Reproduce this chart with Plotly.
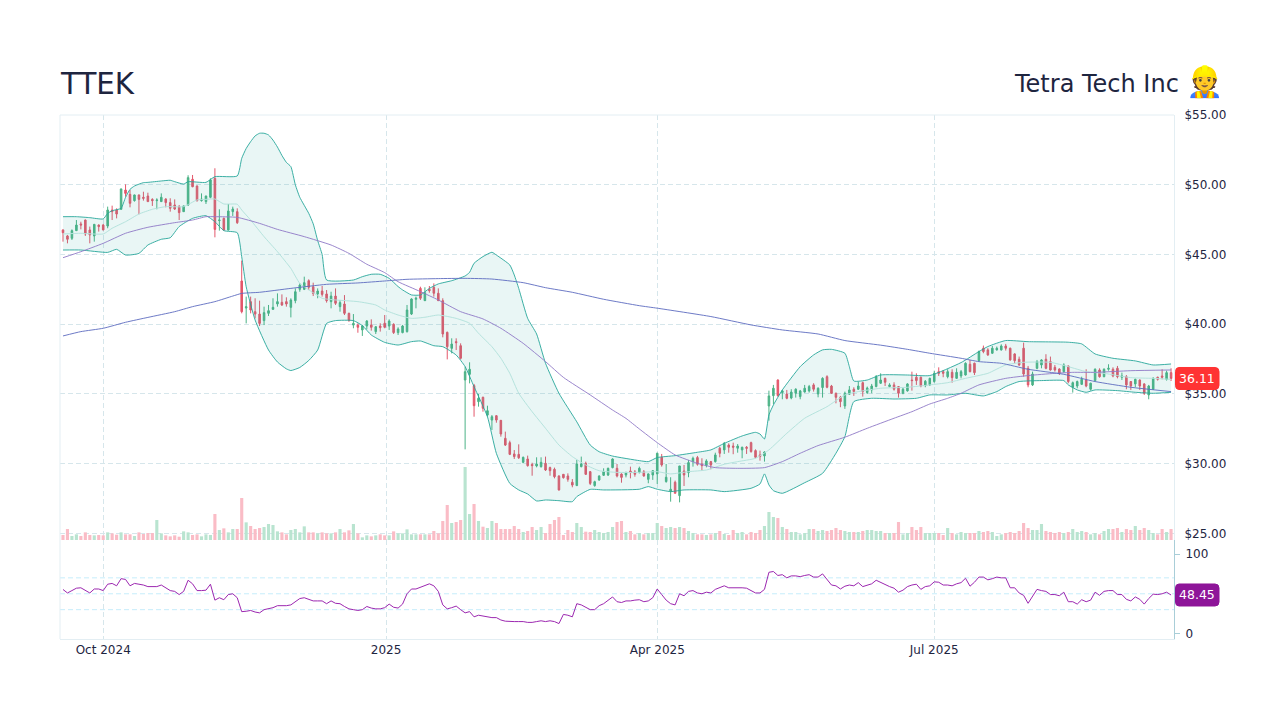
import plotly.graph_objects as go

# trading day numbers on the x axis, 0 is 18 Sep 2024
tick_days = [9, 72.3, 133, 195]
tick_labels = ["Oct 2024", "2025", "Apr 2025", "Jul 2025"]

price_ticks = [25, 30, 35, 40, 45, 50, 55]
price_labels = ["$25.00", "$30.00", "$35.00", "$40.00", "$45.00", "$50.00", "$55.00"]
rsi_ticks = [0, 100]
rsi_levels = [30, 50, 70]

open_px = [
    46.76,46.33,46.16,46.71,47.19,47.47,46.76,46.33,47.11,47.11,
    47.04,48.19,48.19,48.24,49.62,49.31,48.86,49.27,49.10,49.19,
    48.95,48.86,48.79,48.98,48.72,48.55,48.43,48.07,48.55,50.39,
    49.91,48.86,48.79,49.10,50.46,47.43,47.59,46.76,48.07,48.07,
    43.10,41.16,41.62,40.90,40.73,40.26,40.78,41.07,41.45,41.57,
    41.62,41.21,41.69,42.50,42.50,43.12,42.69,42.17,42.38,42.17,
    41.62,42.02,41.26,41.45,40.78,39.94,39.94,39.59,39.87,39.95,
    39.47,39.87,40.07,39.87,39.99,39.40,39.40,39.47,40.73,41.79,
    42.57,41.69,42.50,42.65,42.22,41.69,39.42,38.27,38.75,38.46,
    36.00,36.41,35.60,34.45,34.76,33.49,33.13,33.44,33.11,31.82,
    31.51,30.70,30.67,30.10,30.34,29.95,29.84,29.79,30.03,29.72,
    29.60,29.12,29.24,29.12,28.67,28.43,29.79,30.03,29.43,28.43,
    28.83,29.17,29.19,29.72,29.67,29.26,29.19,29.48,29.41,29.36,
    29.43,28.88,29.19,29.27,30.46,28.72,28.00,28.67,27.71,29.48,
    29.36,30.15,30.44,29.98,29.89,30.15,30.15,31.11,30.99,31.34,
    31.27,31.11,30.99,31.18,31.51,30.94,30.63,30.56,34.14,34.88,
    36.00,35.10,35.00,34.71,35.05,34.81,35.14,35.22,35.65,35.00,
    35.46,36.24,35.57,35.05,34.76,34.14,34.98,35.34,35.34,35.81,
    35.10,35.29,35.53,35.77,36.12,35.53,35.65,35.53,35.05,35.22,
    36.00,36.20,36.20,35.60,35.65,35.89,36.60,36.60,36.24,36.55,
    36.12,36.29,36.36,37.13,37.20,37.39,38.28,38.16,37.92,38.16,
    38.16,38.44,38.28,37.87,37.49,38.28,36.84,35.65,36.84,37.08,
    37.49,37.32,36.91,36.79,36.60,37.01,35.48,35.57,35.69,36.00,
    35.34,35.96,36.72,36.24,36.77,36.77,36.84,36.20,36.24,35.89,
    35.72,36.00,35.72,34.93,35.34,36.20,36.29,36.05,36.53,
]
high_px = [
    46.80,46.40,46.80,47.47,47.35,47.50,47.00,47.19,47.16,47.19,
    48.43,48.50,48.31,49.72,50.03,49.62,49.29,49.29,49.50,49.43,
    49.03,49.03,49.38,49.03,49.03,48.95,48.55,48.50,50.68,50.70,
    49.95,49.38,49.22,50.46,51.18,48.24,47.65,48.62,48.43,48.31,
    44.56,41.98,41.98,41.86,41.69,41.26,41.38,41.86,42.21,42.14,
    41.93,41.86,42.57,42.93,43.41,43.22,42.98,42.57,42.74,42.45,
    42.33,42.57,41.74,42.09,40.83,40.73,40.06,39.95,40.30,40.35,
    39.87,40.07,40.66,40.35,40.07,39.78,39.95,41.38,41.86,41.98,
    42.69,42.65,42.74,42.93,42.57,41.86,39.47,38.99,38.99,38.63,
    36.96,37.27,35.72,35.00,34.81,34.16,33.49,33.49,33.13,32.30,
    31.65,30.98,31.39,30.51,30.58,30.07,30.46,30.46,30.51,29.79,
    29.72,29.17,29.26,29.31,28.90,30.27,30.51,30.15,29.48,28.78,
    29.17,29.67,29.72,30.39,29.98,29.31,29.43,29.79,29.55,29.79,
    29.55,29.31,29.55,30.79,30.70,29.98,29.03,28.79,29.84,29.91,
    30.27,30.51,30.56,30.39,30.32,30.20,30.79,31.22,31.56,31.46,
    31.51,31.41,31.22,31.27,31.58,31.03,30.94,30.89,35.24,35.65,
    36.05,35.29,35.29,35.34,35.41,35.29,35.65,35.65,35.77,35.48,
    36.20,36.34,35.65,35.10,34.86,35.17,35.57,35.48,35.89,35.89,
    35.53,35.72,36.36,36.48,36.17,35.77,35.84,35.57,35.43,35.77,
    36.60,36.48,36.24,36.00,36.17,36.67,36.91,36.72,36.77,36.77,
    36.84,36.72,37.27,37.44,37.25,38.11,38.47,38.28,38.44,38.40,
    38.56,38.59,38.32,37.92,37.68,38.68,37.01,36.60,37.44,37.49,
    37.85,37.68,37.08,36.84,37.20,37.03,35.89,35.96,36.24,36.77,
    35.81,36.84,36.84,36.84,37.13,36.91,37.01,36.53,36.36,35.93,
    36.10,36.05,35.77,35.65,36.20,36.24,36.77,36.67,36.84,
]
low_px = [
    45.92,45.80,46.04,46.68,46.80,46.33,45.80,45.92,46.64,46.74,
    46.88,47.47,47.59,48.19,49.15,48.38,48.79,47.88,48.86,48.79,
    48.48,48.24,48.77,48.38,48.07,48.19,47.47,48.05,48.48,49.82,
    48.79,48.79,48.62,49.03,46.23,46.71,46.71,46.71,47.76,47.19,
    40.78,40.06,40.78,40.42,39.87,39.94,40.59,41.02,41.26,41.31,
    41.26,40.49,41.50,42.33,42.45,42.45,42.02,41.86,41.98,41.55,
    41.14,41.38,40.90,40.66,40.18,39.71,39.39,39.16,39.63,39.54,
    39.30,39.47,39.71,39.59,39.30,39.23,39.35,39.40,40.66,41.14,
    41.74,41.67,42.26,41.98,41.67,39.06,37.48,37.91,38.15,37.48,
    31.03,35.76,33.37,34.09,33.73,33.37,32.42,32.94,31.94,31.27,
    30.62,30.34,30.34,30.03,29.79,29.14,29.74,29.72,29.48,29.14,
    28.95,28.07,28.93,28.71,28.31,28.40,29.74,29.19,28.47,28.35,
    28.78,29.12,29.12,29.67,29.02,28.64,29.02,28.95,29.07,29.31,
    29.07,28.60,28.84,28.55,29.79,28.64,27.28,27.88,27.23,28.40,
    29.03,29.79,29.86,29.50,29.74,29.60,30.08,30.46,30.70,30.79,
    30.68,30.79,30.39,30.70,30.79,30.39,30.22,30.15,33.09,34.28,
    34.81,34.62,34.62,34.62,34.74,34.62,35.10,35.10,35.17,34.76,
    34.74,35.41,35.00,34.33,34.05,33.93,34.93,34.86,35.29,34.81,
    35.00,35.05,35.48,35.72,35.57,35.48,35.24,34.74,34.98,35.17,
    35.24,35.65,35.48,35.48,35.57,35.81,36.29,36.20,36.12,35.81,
    36.08,36.12,36.32,36.55,36.36,37.32,37.92,37.73,37.87,38.11,
    38.11,38.11,37.39,37.20,37.01,36.24,35.48,35.57,36.77,36.84,
    36.77,36.67,36.60,36.36,36.53,35.77,35.10,35.41,35.65,35.48,
    35.24,35.89,36.17,36.20,36.67,36.20,36.12,36.00,35.34,35.29,
    35.48,35.29,34.93,34.62,35.29,35.96,36.05,35.96,35.93,
]
close_px = [
    46.56,46.09,46.71,47.11,47.11,46.47,46.40,47.16,47.00,46.76,
    48.19,48.07,47.90,49.70,49.38,48.67,49.27,48.95,49.03,48.79,
    48.86,48.91,49.10,48.72,48.31,48.26,48.00,48.48,50.51,49.86,
    48.86,48.98,49.19,50.34,46.80,47.47,46.76,48.12,48.26,47.28,
    40.90,41.26,41.02,40.73,40.06,40.83,40.97,41.21,41.62,41.38,
    41.45,41.74,42.33,42.81,42.98,42.65,42.21,42.38,42.14,41.69,
    42.02,41.50,41.55,40.78,40.26,40.06,39.78,39.87,40.23,39.78,
    39.82,39.75,39.78,40.23,39.40,39.66,39.87,41.02,41.81,41.86,
    41.86,42.26,42.41,42.22,41.69,39.30,38.39,38.58,38.68,37.56,
    36.60,36.77,34.16,34.69,33.97,33.80,33.37,33.13,32.13,31.34,
    30.67,30.51,30.43,30.46,29.86,29.86,29.98,30.10,29.55,29.50,
    29.07,28.12,29.00,28.88,28.47,29.98,29.98,29.24,28.59,28.71,
    29.12,29.43,29.67,30.34,29.12,29.02,29.36,29.36,29.24,29.67,
    29.12,29.27,29.50,30.75,29.91,29.03,28.17,27.88,29.84,29.19,
    30.08,30.39,29.96,29.86,30.20,29.91,30.63,30.75,31.46,31.18,
    31.18,31.27,31.18,31.11,30.87,30.46,30.51,30.84,34.86,35.41,
    34.88,35.22,34.69,35.14,35.34,35.22,35.41,35.53,35.34,35.41,
    36.12,35.48,35.05,34.76,34.45,35.05,35.29,35.17,35.57,35.17,
    35.43,35.57,36.24,36.00,35.84,35.65,35.34,35.05,35.34,35.72,
    35.96,35.96,35.57,35.91,36.12,36.48,36.48,36.48,36.60,36.17,
    36.55,36.60,37.20,36.60,36.53,38.04,38.04,37.80,38.28,38.28,
    38.44,38.28,37.44,37.39,37.08,36.43,35.65,36.43,37.32,37.44,
    36.84,36.72,36.72,36.48,37.08,35.89,35.81,35.89,36.05,35.57,
    35.77,36.77,36.24,36.77,36.84,36.29,36.24,36.29,35.65,35.57,
    36.05,35.57,35.05,35.57,36.12,36.05,36.20,36.53,36.11,
]
# volume in 10k shares
volume = [
    15,33,12,17,12,23,15,14,15,14,
    23,20,16,23,17,17,12,23,18,21,
    21,60,20,14,11,14,10,26,23,15,
    17,11,17,15,78,30,35,23,33,33,
    126,53,42,33,36,39,48,45,26,23,
    17,30,33,23,41,23,23,20,23,20,
    20,23,33,23,29,48,20,8,14,11,
    14,17,14,14,26,20,20,32,17,17,
    17,17,17,27,20,57,105,51,54,60,
    219,78,108,57,40,36,57,51,33,33,
    33,42,33,24,27,39,30,39,21,48,
    60,69,15,30,24,51,39,25,24,30,
    24,21,24,39,54,57,24,27,17,21,
    17,21,21,51,42,36,39,36,39,36,
    27,21,17,17,15,17,21,27,18,15,
    30,21,24,17,24,21,30,42,84,69,
    66,39,33,24,24,17,21,33,33,27,
    30,27,30,36,30,27,24,24,24,27,
    30,30,27,27,21,21,21,54,17,21,
    39,30,39,21,21,21,21,15,36,21,
    17,24,21,21,21,27,24,27,24,12,
    17,21,24,21,27,51,36,30,30,48,
    27,24,21,24,21,24,33,24,27,24,
    17,21,17,27,33,33,36,24,33,30,
    42,30,36,30,21,17,33,24,33,
]
rsi = [
    55.4,51,54,57,57.5,54,51,56,56,54,
    62,63,60,69,68,60,63,62,61,59,
    59,59,61,57.5,54,53,49,53,67,62.5,
    54,54,54.5,62,42,45,42.5,49,50,45,
    27.5,28,29,27,26,30,31,32.5,35,35,
    35,36,40.5,44,45,43,41,41,41,37.5,
    41,38,37.5,34,31,30,29,30,34,32,
    31,31,32.5,37,33,32,37,50,56,56,
    58,61,62.5,60,53,36,31,32.5,34.5,30,
    26,27.5,21,23,22,21,20,20,17,15.5,
    15,15,15,15,14,14,15,16,15,16,
    15,12.5,24,23,21,37.5,36,33,30,30,
    35,37.5,42,46,40,39,41,41,42,42.5,
    40,41,45,56,49,42,37.5,36,50,47.5,
    53,54,51,50,52,51,55.5,57.5,60,57.5,
    57.5,58,57.5,57,54.5,51,51,55.5,77,78,
    73,74,70,72.5,72.5,71.5,73,74,71,71,
    75,68,61,60,56,59.5,61,60,64,59,
    61,62.5,67,64,62,59,57,52,54.5,59,
    61,62,55.5,59,60,65,64.5,61,61,60,
    62.5,64,69.5,59.5,64.5,71,71,67.5,69,71,
    70,70,57.5,57.5,51,48,38,46,55.5,54,
    53,49,49,47.5,52,40,40,37,42.5,40,
    42,52,48,53,54,54,49,49,43,41,
    46,43,37,44,49.5,49,50,52,48.45,
]

bb_upper_days = [0,3,6,9,10,11,13,14,15,16,18,19,22,24,25,27,28,32,34,39,40,41,42,43,44,45,46,47,48,49,50,51,52,53,55,56,57,58,59,65,67,69,71,73,75,76,78,80,82,84,87,90,91,92,94,96,97,100,101,102,104,106,108,111,115,118,120,123,129,131,133,137,142,145,148,152,155,156,157,158,159,161,165,168,170,172,175,176,177,180,183,189,194,201,205,207,211,216,225,228,231,235,240,244,248]
bb_upper = [47.71,47.71,47.64,47.55,47.95,48.14,48.31,49.10,49.67,49.91,50.15,50.17,50.27,50.32,50.22,50.05,50.22,50.17,50.58,50.63,51.89,52.6,53.09,53.5,53.69,53.69,53.57,53.2,52.7,52.1,51.6,51.3,50.0,49.1,47.95,47.2,46.0,45.0,43.17,43.17,43.41,43.58,43.58,43.29,42.7,42.46,42.10,42.10,42.57,42.89,43.12,43.46,43.72,44.37,44.85,45.16,44.96,44.25,43.53,42.57,40.42,39.3,37.2,35.05,33.0,31.34,30.86,30.55,30.22,30.15,30.44,30.58,30.82,30.99,31.46,31.99,32.25,32.13,31.77,33.5,34.21,35.29,36.96,37.8,38.16,38.2,37.92,36.96,35.93,36.0,36.36,36.36,36.32,37.25,38.04,38.4,38.83,38.75,38.71,38.59,37.87,37.56,37.37,37.08,37.15]
bb_lower_days = [0,4,10,12,14,17,19,22,24,26,29,32,34,36,39,40,41,43,46,48,50,51,53,55,57,59,61,65,67,69,72,75,78,80,83,85,88,90,92,95,97,100,102,104,106,108,111,114,115,118,121,129,131,133,136,139,145,148,154,156,157,158,159,161,166,170,173,175,177,181,186,191,194,198,202,206,209,211,214,219,224,225,227,229,231,236,240,244,248]
bb_lower = [45.32,45.32,45.15,45.37,44.96,45.08,45.68,46.09,46.2,47.0,47.59,47.78,47.35,46.71,46.56,44.84,42.69,40.3,38.15,37.29,36.8,36.68,36.9,37.4,38.15,40.06,40.26,40.26,39.9,39.23,38.7,38.51,38.75,38.8,38.46,38.39,37.79,36.96,35.52,33.37,30.74,28.59,28.12,27.83,27.33,27.4,27.35,27.28,27.64,28.16,28.12,28.17,28.36,28.17,28.0,28.12,28.12,28.0,28.24,28.55,29.27,28.48,28.07,27.88,28.64,29.31,30.75,31.94,34.45,34.69,34.64,34.69,34.93,34.93,35.05,34.86,35.17,35.53,35.89,35.96,35.96,35.65,35.29,35.12,35.29,35.24,35.12,35.05,35.12]
bb_mid_days = [0,4,9,11,14,17,20,23,27,30,32,34,36,39,40,42,45,48,51,53,56,58,61,66,70,72,75,78,81,84,88,91,93,96,98,100,102,105,108,111,114,117,120,124,129,133,136,140,144,148,151,155,158,162,166,171,175,178,183,189,194,198,202,207,211,215,221,225,229,233,239,244,248]
bb_mid = [46.47,46.52,46.47,46.88,47.35,47.9,48.24,48.43,48.43,48.91,48.95,48.98,48.62,48.6,48.19,47.47,46.28,45.2,44.0,42.93,42.26,41.86,41.74,41.62,41.38,41.02,40.66,40.42,40.5,40.66,40.42,40.07,39.35,38.39,37.56,36.48,35.05,33.73,32.54,31.34,30.51,29.91,29.5,29.38,29.38,29.43,29.27,29.43,29.55,29.96,30.15,30.39,30.99,32.18,33.26,34.09,34.93,35.17,35.41,35.48,35.65,35.81,36.12,36.48,37.08,37.27,37.27,36.96,36.6,36.48,36.17,36.12,36.05]
sma50_days = [0,4,9,14,19,25,29,32,34,39,44,48,54,60,64,68,72,75,80,84,89,94,98,103,108,112,118,123,126,129,133,137,142,146,151,157,161,165,169,175,180,186,190,194,198,201,205,211,216,222,226,231,239,248]
sma50 = [44.77,45.2,45.8,46.52,46.95,47.28,47.47,47.71,47.71,47.66,47.23,46.8,46.28,45.68,45.08,44.3,43.7,43.05,42.34,41.74,40.9,40.38,39.71,38.63,37.32,36.19,34.93,33.85,33.25,32.49,31.51,30.63,30.03,29.72,29.67,29.72,30.15,30.75,31.3,31.9,32.54,33.26,33.73,34.28,34.69,35.05,35.65,36.12,36.32,36.48,36.55,36.55,36.67,36.72]
sma200_days = [0,4,9,14,19,25,29,34,38,40,44,51,59,66,72,77,84,90,96,103,108,114,121,129,133,145,154,161,169,175,183,189,194,201,205,210,216,224,231,239,248]
sma200 = [39.16,39.47,39.71,40.14,40.49,40.9,41.26,41.62,42.02,42.21,42.29,42.57,42.86,42.96,43.1,43.22,43.27,43.29,43.24,42.98,42.62,42.29,41.79,41.33,41.15,40.55,39.95,39.59,39.3,38.83,38.5,38.2,37.92,37.56,37.32,37.2,36.77,36.41,35.89,35.48,35.17]

INK = "#1e253f"
FONT = "DejaVu Sans"
UP = "#4cb386"
DOWN = "#e4576b"
TEAL = "#26a69a"
GRID = "#d6e6eb"
DASH = "5px,3px"
EDGE = "#e3eef3"

days = list(range(len(close_px)))
vol_colors = ["#b9e4d0" if c >= o else "#fabcc6" for o, c in zip(open_px, close_px)]
band_line = dict(color=TEAL, width=0.9, shape="spline", smoothing=0.5)

fig = go.Figure()
fig.add_trace(go.Bar(x=days, y=volume, marker=dict(color=vol_colors, line_width=0), width=0.7, yaxis="y3"))
fig.add_trace(go.Scatter(x=bb_lower_days, y=bb_lower, mode="lines", line=band_line))
fig.add_trace(
    go.Scatter(
        x=bb_upper_days, y=bb_upper, mode="lines", line=band_line,
        fill="tonexty", fillcolor="rgba(38,166,154,0.10)",
    )
)
fig.add_trace(go.Scatter(x=bb_mid_days, y=bb_mid, mode="lines", line=dict(color="#b5e3dd", width=1, shape="spline", smoothing=0.5)))
fig.add_trace(go.Scatter(x=sma50_days, y=sma50, mode="lines", line=dict(color="#8f78c6", width=0.9, shape="spline", smoothing=0.5)))
fig.add_trace(go.Scatter(x=sma200_days, y=sma200, mode="lines", line=dict(color="#5c6bc0", width=0.9, shape="spline", smoothing=0.5)))
fig.add_trace(
    go.Candlestick(
        x=days, open=open_px, high=high_px, low=low_px, close=close_px, whiskerwidth=0,
        increasing=dict(line=dict(color=UP, width=1), fillcolor=UP),
        decreasing=dict(line=dict(color=DOWN, width=1), fillcolor=DOWN),
    )
)
fig.add_trace(go.Scatter(x=days, y=rsi, mode="lines", line=dict(color="#9c27b0", width=1), xaxis="x2", yaxis="y2"))

# the page body keeps its 8px browser margin, so the figure is a bit smaller than the window
fig.update_layout(
    width=1264, height=704, margin=dict(l=52, r=97.5, t=107, b=73),
    paper_bgcolor="white", plot_bgcolor="white", showlegend=False, boxgap=0.5,
    font=dict(family=FONT, color=INK, size=12),
    xaxis=dict(
        domain=[0, 1], range=[-0.67, 248.66], anchor="y", tickvals=tick_days, ticktext=tick_labels, showticklabels=False,
        showgrid=True, gridcolor=GRID, griddash=DASH, gridwidth=1, zeroline=False, rangeslider=dict(visible=False),
        showline=False, ticks="",
    ),
    xaxis2=dict(
        domain=[0, 1], range=[-0.67, 248.66], anchor="y2", tickvals=tick_days, ticktext=tick_labels,
        showgrid=True, gridcolor=GRID, griddash=DASH, gridwidth=1, zeroline=False,
        showline=True, linecolor=EDGE, linewidth=1, ticks="",
    ),
    yaxis=dict(
        domain=[0.1889, 1], range=[24.53, 55], side="right", anchor="x", tickvals=price_ticks, ticktext=price_labels,
        showgrid=True, gridcolor=GRID, griddash=DASH, gridwidth=1, zeroline=False,
        showline=True, linecolor=EDGE, linewidth=1, ticks="outside", ticklen=7, tickcolor="rgba(0,0,0,0)",
    ),
    yaxis2=dict(
        domain=[0, 0.1889], range=[-6.9, 117.6], side="right", anchor="x2", tickvals=rsi_ticks,
        showgrid=False, zeroline=False, showline=True, linecolor="#a9ced8", linewidth=1,
        ticks="outside", ticklen=5, tickcolor="#a9ced8", ticklabelstandoff=3,
    ),
    yaxis3=dict(overlaying="y", range=[0, 1275], visible=False),
    annotations=[
        dict(text="TTEK", xref="paper", yref="paper", x=0, xshift=-2, y=1.0235, xanchor="left", yanchor="bottom", showarrow=False, font=dict(size=29.3, color=INK, family=FONT)),
        dict(text='Tetra Tech Inc <span style="font-size:30px">👷</span>', xref="paper", yref="paper", x=1.0457, y=1.0273, xanchor="right", yanchor="bottom", showarrow=False, font=dict(size=24, color=INK, family=FONT)),
        dict(text=f"{close_px[-1]:.2f}", xref="paper", yref="y", x=1.0202, y=close_px[-1], xanchor="center", showarrow=False, font=dict(size=12.5, color="white", family=FONT)),
        dict(text=f"{rsi[-1]:.2f}", xref="paper", yref="y2", x=1.0202, y=rsi[-1], xanchor="center", showarrow=False, font=dict(size=12.5, color="white", family=FONT)),
    ],
)

# rounded last-value tags, sized in pixels and pinned to the last close and last RSI
TAG = "M 5 -11 H 41 Q 45 -11 45 -7 V 7 Q 45 11 41 11 H 5 Q 1.5 11 1.5 7 V -7 Q 1.5 -11 5 -11 Z"
for yref, last, colour in [("y", close_px[-1], "#ff3333"), ("y2", rsi[-1], "#8e1599")]:
    fig.add_shape(
        type="path", path=TAG, xref="paper", xsizemode="pixel", xanchor=1.0, yref=yref, ysizemode="pixel", yanchor=last,
        fillcolor=colour, line=dict(color=colour, width=1), layer="above",
    )

for level in rsi_levels:
    fig.add_shape(type="line", xref="x2 domain", yref="y2", x0=0, x1=1, y0=level, y1=level, line=dict(color="#c6edfb", width=1, dash=DASH), layer="below")

# top edge of the price pane and the left edge of both panes
fig.add_shape(type="line", xref="x domain", yref="y domain", x0=0, x1=1, y0=1, y1=1, line=dict(color=EDGE, width=1))
fig.add_shape(type="line", xref="paper", yref="paper", x0=0, x1=0, y0=0, y1=1, line=dict(color=EDGE, width=1))

fig.write_html("out.html")
